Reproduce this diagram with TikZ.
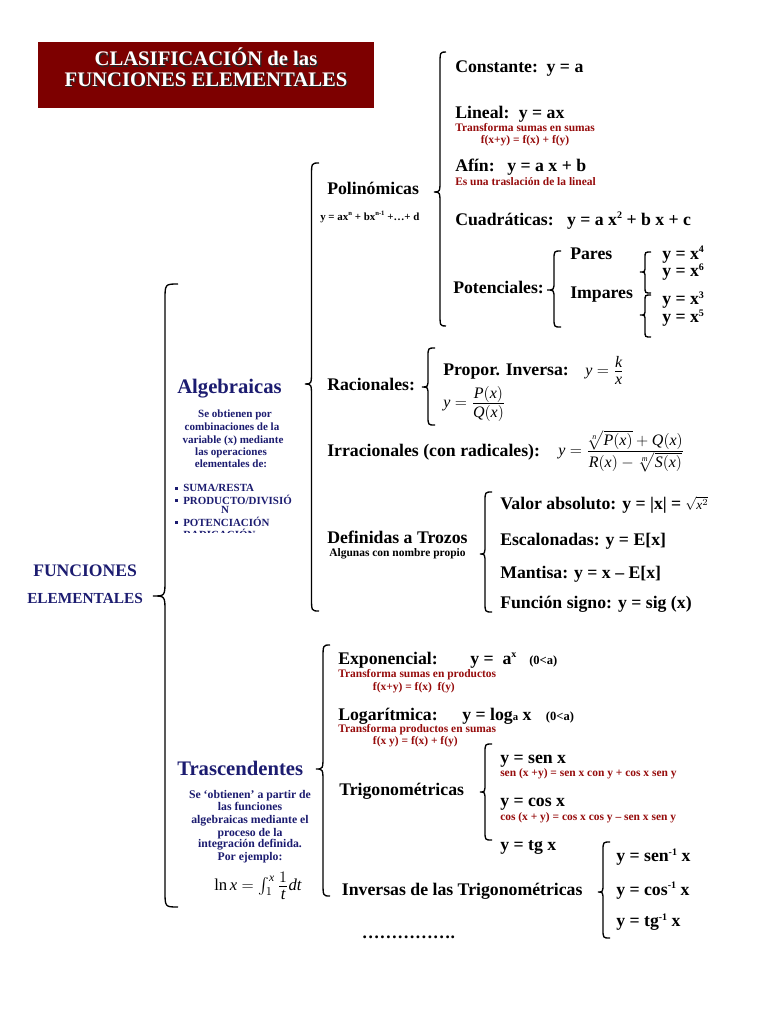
\documentclass[tikz,border=0pt]{standalone}
\usepackage{fontspec}
\usepackage{amsmath}
\setmainfont{Liberation Serif}
\definecolor{navy}{RGB}{28,28,112}
\definecolor{dred}{RGB}{150,12,12}
\definecolor{titlered}{RGB}{125,0,0}
\newcommand\ti[1]{\text{\normalfont\itshape #1}}
\newcommand\tu[1]{\text{\normalfont #1}}
\newcommand\cfr[2]{\frac{\textstyle #1\rule[-2.2pt]{0pt}{0pt}}{\textstyle\rule{0pt}{9.5pt}#2}}
\newcommand\sups[1]{\raisebox{0.36em}{\fontsize{7.5}{7.5}\selectfont #1}}
\newcommand\ssups[1]{\raisebox{0.42em}{\fontsize{5}{5}\selectfont #1}}
\newcommand\subs[1]{\raisebox{0pt}{\fontsize{8}{8}\selectfont #1}}
% brace: xline, ytop, ybot, xtip, ytip, xend, r
\newcommand\mybrc[7]{\draw[brc] (#6,#2) .. controls (#1,#2) .. (#1,#2+#7) -- (#1,#5-#7) .. controls (#1,#5) .. (#4,#5) .. controls (#1,#5) .. (#1,#5+#7) -- (#1,#3-#7) .. controls (#1,#3) .. (#6,#3);}
\tikzset{
  lbl/.style={anchor=base west, inner sep=0pt, font=\fontsize{13.3}{15}\selectfont\bfseries},
  lblc/.style={lbl, anchor=base},
  note/.style={anchor=base west, inner sep=0pt, font=\fontsize{8.6}{10}\selectfont\bfseries, text=dred},
  notec/.style={note, anchor=base},
  small/.style={anchor=base west, inner sep=0pt, font=\fontsize{9.4}{11}\selectfont\bfseries},
  cat/.style={anchor=base west, inner sep=0pt, font=\fontsize{15.5}{17}\selectfont\bfseries, text=navy},
  desc/.style={anchor=base, inner sep=0pt, font=\fontsize{8.3}{10}\selectfont\bfseries, text=navy},
  desct/.style={desc, font=\fontsize{8.8}{10}\selectfont\bfseries},
  bul/.style={anchor=base west, inner sep=0pt, font=\fontsize{8.2}{10}\selectfont\bfseries, text=navy},
  fml/.style={anchor=base west, inner sep=0pt, font=\fontsize{12}{14}\selectfont},
  ttl/.style={anchor=base, inner sep=0pt, font=\fontsize{15.5}{17}\selectfont\bfseries},
  brc/.style={line width=1pt, black}
}
\begin{document}
\begin{tikzpicture}[x=0.75pt,y=-0.75pt]
\fill[white] (0,0) rectangle (768,1024);
\useasboundingbox (0,0) rectangle (768,1024);

% title
\fill[titlered] (38,42) rectangle (374,108);
\node[ttl, text=black!85] at (207.3,67.3) {CLASIFICACIÓN de las};
\node[ttl, text=black!85] at (207.3,87.3) {FUNCIONES ELEMENTALES};
\node[ttl, text=white] (t1) at (206,66) {CLASIFICACIÓN de las};
\node[ttl, text=white] (t2) at (206,86) {FUNCIONES ELEMENTALES};

% root
\node[lbl, text=navy, font=\fontsize{13.2}{15}\selectfont\bfseries] (fun) at (33,576.7) {FUNCIONES};
\node[lbl, text=navy, font=\fontsize{11.5}{13}\selectfont\bfseries] (ele) at (27,603) {ELEMENTALES};
\mybrc{165}{284}{907}{153}{596}{178}{16}

% Algebraicas
\node[cat] (alg) at (177,393) {Algebraicas};
\node[desc] (d1) at (235,417) {Se obtienen por};
\node[desc] (d2) at (232,430.7) {combinaciones de la};
\node[desc] (d3) at (233,443) {variable (x) mediante};
\node[desc] (d4) at (231,455) {las operaciones};
\node[desc] (d5) at (231,467) {elementales de:};
\node[bul] (bb1) at (175,491.7) {\raisebox{1.6pt}{\rule{2.2pt}{2.2pt}}};
\node[bul] (b1) at (183,491.7) {SUMA/RESTA};
\node[bul] (bb2) at (175,504) {\raisebox{1.6pt}{\rule{2.2pt}{2.2pt}}};
\node[bul] (b2) at (183,504) {PRODUCTO/DIVISIÓ};
\node[bul, anchor=base] (b2n) at (225,513.5) {N};
\node[bul] (bb3) at (175,526) {\raisebox{1.6pt}{\rule{2.2pt}{2.2pt}}};
\node[bul] (b3) at (183,526) {POTENCIACIÓN};
\begin{scope}
\clip (170,528) rectangle (310,532.6);
\node[bul] (b4) at (183,538.5) {RADICACIÓN};
\end{scope}
\mybrc{311.5}{163}{611}{305}{384}{319}{14}

% Polinomicas
\node[lbl] (pol) at (327,194) {Polinómicas};
\node[anchor=base west, inner sep=0pt, font=\fontsize{8.2}{10}\selectfont\bfseries] (polf) at (320,220) {y = ax\ssups{n} + bx\ssups{n-1} +\ldots+ d};
\mybrc{440}{52}{326}{434}{192}{446}{13}
\node[lbl] (con) at (455,73) {Constante:\hspace{6.5pt}y = a};
\node[lbl] (lin) at (455,118) {Lineal:\hspace{7pt}y = ax};
\node[note] (lin1) at (455,131.7) {Transforma sumas en sumas};
\node[notec] (lin2) at (525,143) {f(x+y) = f(x) + f(y)};
\node[lbl] (afi) at (455,171.7) {Afín:\hspace{9.5pt}y = a x + b};
\node[note] (afi1) at (455,185) {Es una traslación de la lineal};
\node[lbl] (cua) at (455,225) {Cuadráticas:\hspace{10pt}y = a x\sups{2} + b x + c};
\node[lbl] (pot) at (453,293) {Potenciales:};
\mybrc{554}{251}{327}{547}{290}{561}{9}
\node[lbl] (par) at (570,259) {Pares};
\node[lbl] (imp) at (570,298) {Impares};
\mybrc{645}{252}{293}{640}{272}{651}{6}
\mybrc{645}{295}{337}{640}{315}{651}{6}
\node[lbl] (x4) at (662,259) {y = x\sups{4}};
\node[lbl] (x6) at (662,276.5) {y = x\sups{6}};
\node[lbl] (x3) at (662,304.5) {y = x\sups{3}};
\node[lbl] (x5) at (662,322.5) {y = x\sups{5}};

% Racionales
\node[lbl] (rac) at (327,390) {Racionales:};
\mybrc{428}{348}{425}{422}{387}{435}{9}
\node[lbl] (pro) at (443,375.7) {Propor. Inversa:};
\node[fml] (prof) at (585,375) {$\ti{y} = \cfr{\ti{k}}{\ti{x}}$};
\node[fml] (racf) at (443,407.5) {$\ti{y} = \cfr{\ti{P}(\ti{x})}{\ti{Q}(\ti{x})}$};

% Irracionales
\node[lbl] (irr) at (327,456.7) {Irracionales (con radicales):};
\node[fml] (irrf) at (558,455.5) {$\ti{y} = \cfr{\sqrt[\ti{n}]{\ti{P}(\ti{x})}+\ti{Q}(\ti{x})}{\ti{R}(\ti{x})-\sqrt[\ti{m}]{\ti{S}(\ti{x})}}$};

% Definidas a trozos
\node[lblc] (def) at (397.5,543) {Definidas a Trozos};
\node[note, anchor=base, text=black] (def1) at (397.5,556.7) {Algunas con nombre propio};
\mybrc{485}{492}{612}{480}{554}{492}{10}
\node[lbl] (val) at (500,509) {Valor absoluto: y = |x| =\hspace{3pt}\fontsize{10}{12}\selectfont\mdseries$\sqrt{\ti{x}^{2}}$};
\node[lbl] (esc) at (500,545) {Escalonadas: y = E[x]};
\node[lbl] (man) at (500,578) {Mantisa: y = x – E[x]};
\node[lbl] (sig) at (500,608) {Función signo: y = sig (x)};

% Trascendentes
\node[cat] (tra) at (177,775) {Trascendentes};
\node[desct] (e1) at (250,798) {Se ‘obtienen’ a partir de};
\node[desct] (e2) at (250,810) {las funciones};
\node[desct] (e3) at (250,823.3) {algebraicas mediante el};
\node[desct] (e4) at (250,836) {proceso de la};
\node[desct] (e5) at (250,847.7) {integración definida.};
\node[desct] (e6) at (250,860) {Por ejemplo:};
\node[fml, font=\fontsize{12.5}{14}\selectfont] (lnf) at (214,890) {$\tu{ln}\,\ti{x} = \int_{1}^{\ti{x}}\cfr{1}{\ti{t}}\ti{dt}$};
\mybrc{323}{645}{896}{316}{769}{330}{14}

\node[lbl] (exp) at (338,664) {Exponencial:};
\node[lbl] (expf) at (470,664) {y = \ a\sups{x}};
\node[small] (expc) at (529,664) {(0<a)};
\node[note] (exp1) at (338,677.7) {Transforma sumas en productos};
\node[note] (exp2) at (372.7,690) {f(x+y) = f(x)\ \ f(y)};
\node[lbl] (log) at (338,720) {Logarítmica:};
\node[lbl] (logf) at (462,720) {y = log\subs{a} x};
\node[small] (logc) at (545.7,720) {(0<a)};
\node[note] (log1) at (338,732.7) {Transforma productos en sumas};
\node[note] (log2) at (372.7,744) {f(x y) = f(x) + f(y)};

\node[lbl] (tri) at (339,795) {Trigonométricas};
\mybrc{485}{744}{840}{480}{792}{492}{9}
\node[lbl] (sen) at (500,763.3) {y = sen x};
\node[note] (sen1) at (500,776) {sen (x +y) = sen x con y + cos x sen y};
\node[lbl] (cos) at (500,806) {y = cos x};
\node[note] (cos1) at (500,820) {cos (x + y) = cos x cos y – sen x sen y};
\node[lbl] (tg) at (500,850.7) {y = tg x};

\node[lbl] (inv) at (341.7,895) {Inversas de las Trigonométricas};
\mybrc{603}{842}{938}{598}{892}{610}{9}
\node[lbl] (asen) at (616,861.7) {y = sen\sups{-1} x};
\node[lbl] (acos) at (616,895) {y = cos\sups{-1} x};
\node[lbl] (atg) at (616,926.7) {y = tg\sups{-1} x};
\node[lbl] (dots) at (361.7,938) {…………….};
\end{tikzpicture}
\end{document}
